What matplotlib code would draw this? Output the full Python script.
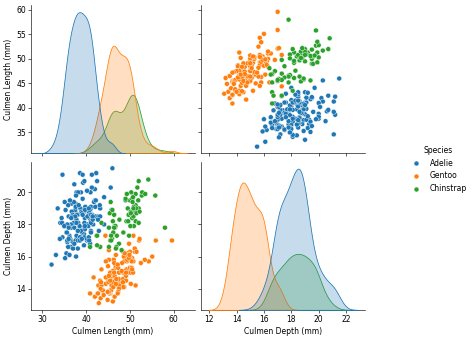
import numpy as np
import pandas as pd
import seaborn as sns
import matplotlib
matplotlib.use("Agg")
import matplotlib.pyplot as plt

# culmen length / depth (mm) per species
adelie_length = [39.1, 39.5, 40.3, 36.7, 39.3, 38.9, 39.2, 34.1, 42.0, 37.8, 37.8, 41.1, 38.6, 34.6,
                 36.6, 38.7, 42.5, 34.4, 46.0, 37.8, 37.7, 35.9, 38.2, 38.8, 35.3, 40.6, 40.5, 37.9,
                 40.5, 39.5, 37.2, 39.5, 40.9, 36.4, 39.2, 38.8, 42.2, 37.6, 39.8, 36.5, 40.8, 36.0,
                 44.1, 37.0, 39.6, 41.1, 37.5, 36.0, 42.3, 39.6, 40.1, 35.0, 42.0, 34.5, 41.4, 39.0,
                 40.6, 36.5, 37.6, 35.7, 41.3, 37.6, 41.1, 36.4, 41.6, 35.5, 41.1, 35.9, 41.8, 33.5,
                 39.7, 39.6, 45.8, 35.5, 42.8, 40.9, 37.2, 36.2, 42.1, 34.6, 42.9, 36.7, 35.1, 37.3,
                 41.3, 36.3, 36.9, 38.3, 38.9, 35.7, 41.1, 34.0, 39.6, 36.2, 40.8, 38.1, 40.3, 33.1,
                 43.2, 35.0, 41.0, 37.7, 37.8, 37.9, 39.7, 38.6, 38.2, 38.1, 43.2, 38.1, 45.6, 39.7,
                 42.2, 39.6, 42.7, 38.6, 37.3, 35.7, 41.1, 36.2, 37.7, 40.2, 41.4, 35.2, 40.6, 38.8,
                 41.5, 39.0, 44.1, 38.5, 43.1, 36.8, 37.5, 38.1, 41.1, 35.6, 40.2, 37.0, 39.7, 40.2,
                 40.6, 32.1, 40.7, 37.3, 39.0, 39.2, 36.6, 36.0, 37.8, 36.0, 41.5]
adelie_depth = [18.7, 17.4, 18.0, 19.3, 20.6, 17.8, 19.6, 18.1, 20.2, 17.1, 17.3, 17.6, 21.2, 21.1,
                17.8, 19.0, 20.7, 18.4, 21.5, 18.3, 18.7, 19.2, 18.1, 17.2, 18.9, 18.6, 17.9, 18.6,
                18.9, 16.7, 18.1, 17.8, 18.9, 17.0, 21.1, 20.0, 18.5, 19.3, 19.1, 18.0, 18.4, 18.5,
                19.7, 16.9, 18.8, 19.0, 18.9, 17.9, 21.2, 17.7, 18.9, 17.9, 19.5, 18.1, 18.6, 17.5,
                18.8, 16.6, 19.1, 16.9, 21.1, 17.0, 18.2, 17.1, 18.0, 16.2, 19.1, 16.6, 19.4, 19.0,
                18.4, 17.2, 18.9, 17.5, 18.5, 16.8, 19.4, 16.1, 19.1, 17.2, 17.6, 18.8, 19.4, 17.8,
                20.3, 19.5, 18.6, 19.2, 18.8, 18.0, 18.1, 17.1, 18.1, 17.3, 18.9, 18.6, 18.5, 16.1,
                18.5, 17.9, 20.0, 16.0, 20.0, 18.6, 18.9, 17.2, 20.0, 17.0, 19.0, 16.5, 20.3, 17.7,
                19.5, 20.7, 18.3, 17.0, 20.5, 17.0, 18.6, 17.2, 19.8, 17.0, 18.5, 15.9, 19.0, 17.6,
                18.3, 17.1, 18.0, 17.9, 19.2, 18.5, 18.5, 17.6, 17.5, 17.5, 20.1, 16.5, 17.9, 17.1,
                17.2, 15.5, 17.0, 16.8, 18.7, 18.6, 18.4, 17.8, 18.1, 17.1, 18.5]

gentoo_length = [46.1, 50.0, 48.7, 50.0, 47.6, 46.5, 45.4, 46.7, 43.3, 46.8, 40.9, 49.0, 45.5, 48.4,
                 45.8, 49.3, 42.0, 49.2, 46.2, 48.7, 50.2, 45.1, 46.5, 46.3, 42.9, 46.1, 44.5, 47.8,
                 48.2, 50.0, 47.3, 42.8, 45.1, 59.6, 49.1, 48.4, 42.6, 44.4, 44.0, 48.7, 42.7, 49.6,
                 45.3, 49.6, 50.5, 43.6, 45.5, 50.5, 44.9, 45.2, 46.6, 48.5, 45.1, 50.1, 46.5, 45.0,
                 43.8, 45.5, 43.2, 50.4, 45.3, 46.2, 45.7, 54.3, 45.8, 49.8, 46.2, 49.5, 43.5, 50.7,
                 47.7, 46.4, 48.2, 46.5, 46.4, 48.6, 47.5, 51.1, 45.2, 45.2, 49.1, 52.5, 47.4, 50.0,
                 44.9, 50.8, 43.4, 51.3, 47.5, 52.1, 47.5, 52.2, 45.5, 49.5, 44.5, 50.8, 49.4, 46.9,
                 48.4, 51.1, 48.5, 55.9, 47.2, 49.1, 47.3, 46.8, 41.7, 53.4, 43.3, 48.1, 50.5, 49.8,
                 43.5, 51.5, 46.2, 55.1, 44.5, 48.8, 47.2, 46.8, 50.4, 45.2, 49.9]
gentoo_depth = [13.2, 16.3, 14.1, 15.2, 14.5, 13.5, 14.6, 15.3, 13.4, 15.4, 13.7, 16.1, 13.7, 14.6,
                14.6, 15.7, 13.5, 15.2, 14.5, 15.1, 14.3, 14.5, 14.5, 15.8, 13.1, 15.1, 14.3, 15.0,
                14.3, 15.3, 15.3, 14.2, 14.5, 17.0, 14.8, 16.3, 13.7, 17.3, 13.6, 15.7, 13.7, 16.0,
                13.7, 15.0, 15.9, 13.9, 13.9, 15.9, 13.3, 15.8, 14.2, 14.1, 14.4, 15.0, 14.4, 15.4,
                13.9, 15.0, 14.5, 15.3, 13.8, 14.9, 13.9, 15.7, 14.2, 16.8, 14.4, 16.2, 14.2, 15.0,
                15.0, 15.6, 15.6, 14.8, 15.0, 16.0, 14.2, 16.3, 13.8, 16.4, 14.5, 15.6, 14.6, 15.9,
                13.8, 17.3, 14.4, 14.2, 14.0, 17.0, 15.0, 17.1, 14.5, 16.1, 14.7, 15.7, 15.8, 14.6,
                14.4, 16.5, 15.0, 17.0, 15.5, 15.0, 13.8, 16.1, 14.7, 15.8, 14.0, 15.1, 15.2, 15.9,
                15.2, 16.3, 14.1, 16.0, 15.7, 16.2, 13.7, 14.3, 15.7, 14.8, 16.1]

chinstrap_length = [46.5, 50.0, 51.3, 45.4, 52.7, 45.2, 46.1, 51.3, 46.0, 51.3, 46.6, 51.7, 47.0,
                    52.0, 45.9, 50.5, 50.3, 58.0, 46.4, 49.2, 42.4, 48.5, 43.2, 50.6, 46.7, 52.0,
                    50.5, 49.5, 46.4, 52.8, 40.9, 54.2, 42.5, 51.0, 49.7, 47.5, 47.6, 52.0, 46.9,
                    53.5, 49.0, 46.2, 50.9, 45.5, 50.9, 50.8, 50.1, 49.0, 51.5, 49.8, 48.1, 51.4,
                    45.7, 50.7, 42.5, 52.2, 45.2, 49.3, 50.2, 45.6, 51.9, 46.8, 45.7, 55.8, 43.5,
                    49.6, 50.8, 50.2]
chinstrap_depth = [17.9, 19.5, 19.2, 18.7, 19.8, 17.8, 18.2, 18.2, 18.9, 19.9, 17.8, 20.3, 17.3,
                   18.1, 17.1, 19.6, 20.0, 17.8, 18.6, 18.2, 17.3, 17.5, 16.6, 19.4, 17.9, 19.0,
                   18.4, 19.0, 17.8, 20.0, 16.6, 20.8, 16.7, 18.8, 18.6, 16.8, 18.3, 20.7, 16.6,
                   19.9, 19.5, 17.5, 19.1, 17.0, 17.9, 18.5, 17.9, 19.6, 18.7, 17.3, 16.4, 19.0,
                   17.3, 19.7, 17.3, 18.8, 16.6, 19.9, 18.8, 19.4, 19.5, 16.5, 17.0, 19.8, 18.1,
                   18.2, 19.0, 18.7]

species = ["Adelie", "Gentoo", "Chinstrap"]

df = pd.concat([
    pd.DataFrame({"Culmen Length (mm)": adelie_length, "Culmen Depth (mm)": adelie_depth, "Species": "Adelie"}),
    pd.DataFrame({"Culmen Length (mm)": gentoo_length, "Culmen Depth (mm)": gentoo_depth, "Species": "Gentoo"}),
    pd.DataFrame({"Culmen Length (mm)": chinstrap_length, "Culmen Depth (mm)": chinstrap_depth, "Species": "Chinstrap"}),
], ignore_index=True)

g = sns.pairplot(df, hue="Species", hue_order=species, height=3,
                 plot_kws={"s": 42})

fig = g.figure
dpi = 55
fig.set_size_inches(474 / dpi, 339 / dpi)
fig.subplots_adjust(left=0.066, right=0.77, top=0.985, bottom=0.086, wspace=0.04, hspace=0.055)
g._legend.set_bbox_to_anchor((1.0, 0.5))

fig.savefig("out.png", dpi=dpi)
